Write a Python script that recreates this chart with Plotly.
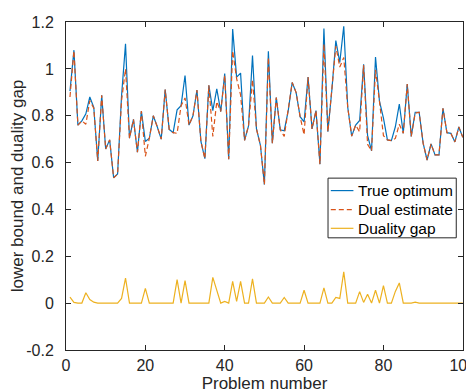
import plotly.graph_objects as go

problems = list(range(1, 101))

true_optimum = [
    0.905, 1.080, 0.760, 0.778, 0.808, 0.880, 0.836, 0.607, 0.887, 0.658,
    0.697, 0.535, 0.551, 0.885, 1.107, 0.704, 0.785, 0.644, 0.820, 0.690,
    0.704, 0.800, 0.753, 0.700, 0.912, 0.742, 0.728, 0.825, 0.843, 0.972,
    0.760, 0.800, 0.910, 0.690, 0.617, 0.930, 0.822, 0.915, 0.818, 0.980,
    0.614, 1.170, 0.965, 0.982, 0.695, 0.757, 1.057, 0.744, 0.674, 0.506,
    1.075, 0.683, 0.878, 0.740, 0.736, 0.821, 0.942, 0.899, 0.796, 0.774,
    0.965, 0.744, 0.822, 0.593, 1.172, 0.732, 0.910, 1.121, 1.028, 1.182,
    0.836, 0.713, 0.760, 0.780, 1.020, 0.716, 0.650, 1.051, 0.862, 0.790,
    0.697, 0.694, 0.753, 0.850, 0.725, 0.935, 0.712, 0.815, 0.815, 0.683,
    0.611, 0.680, 0.633, 0.633, 0.832, 0.728, 0.725, 0.688, 0.752, 0.708,
]

dual_estimate = [
    0.880, 1.077, 0.760, 0.778, 0.764, 0.865, 0.832, 0.607, 0.887, 0.658,
    0.697, 0.535, 0.551, 0.865, 1.000, 0.704, 0.785, 0.644, 0.820, 0.627,
    0.704, 0.800, 0.753, 0.700, 0.912, 0.742, 0.728, 0.725, 0.843, 0.876,
    0.760, 0.800, 0.910, 0.690, 0.617, 0.930, 0.712, 0.860, 0.818, 0.973,
    0.614, 1.077, 0.958, 0.889, 0.695, 0.757, 0.954, 0.744, 0.674, 0.506,
    1.049, 0.683, 0.878, 0.740, 0.712, 0.821, 0.942, 0.899, 0.796, 0.719,
    0.965, 0.744, 0.822, 0.593, 1.107, 0.732, 0.910, 1.097, 1.008, 1.049,
    0.836, 0.713, 0.760, 0.731, 1.017, 0.678, 0.650, 0.996, 0.862, 0.715,
    0.697, 0.694, 0.703, 0.764, 0.725, 0.935, 0.712, 0.811, 0.815, 0.683,
    0.611, 0.680, 0.633, 0.633, 0.832, 0.728, 0.725, 0.688, 0.752, 0.708,
]

duality_gap = [
    0.025, 0.003, 0.000, 0.000, 0.044, 0.015, 0.004, 0.000, 0.000, 0.000,
    0.000, 0.000, 0.000, 0.020, 0.107, 0.000, 0.000, 0.000, 0.000, 0.063,
    0.000, 0.000, 0.000, 0.000, 0.000, 0.000, 0.000, 0.100, 0.000, 0.096,
    0.000, 0.000, 0.000, 0.000, 0.000, 0.000, 0.110, 0.055, 0.000, 0.007,
    0.000, 0.093, 0.007, 0.093, 0.000, 0.000, 0.103, 0.000, 0.000, 0.000,
    0.026, 0.000, 0.000, 0.000, 0.024, 0.000, 0.000, 0.000, 0.000, 0.055,
    0.000, 0.000, 0.000, 0.000, 0.065, 0.000, 0.000, 0.024, 0.020, 0.133,
    0.000, 0.000, 0.000, 0.049, 0.003, 0.038, 0.000, 0.055, 0.000, 0.075,
    0.000, 0.000, 0.050, 0.086, 0.000, 0.000, 0.000, 0.004, 0.000, 0.000,
    0.000, 0.000, 0.000, 0.000, 0.000, 0.000, 0.000, 0.000, 0.000, 0.000,
]

series_names = ["True optimum", "Dual estimate", "Duality gap"]
series_colors = ["#0072BD", "#D95319", "#EDB120"]
series_dash = ["solid", "5px,3px", "solid"]

x_ticks = [0, 20, 40, 60, 80, 100]
y_ticks = [-0.2, 0, 0.2, 0.4, 0.6, 0.8, 1.0, 1.2]
y_tick_labels = ["-0.2", "0", "0.2", "0.4", "0.6", "0.8", "1", "1.2"]

FONT = "Liberation Sans, Arial, Helvetica, sans-serif"
AX = "#262626"

fig = go.Figure()
for name, ys, col, dash in zip(series_names, [true_optimum, dual_estimate, duality_gap],
                               series_colors, series_dash):
    fig.add_trace(go.Scatter(x=problems, y=ys, mode="lines", name=name,
                             line=dict(color=col, width=1.2, dash=dash)))

# Legend box drawn in the plot's paper coordinates (compact, MATLAB-style)
leg_x0, leg_x1, leg_y0, leg_y1 = 0.660, 0.983, 0.342, 0.524
entry_y = [0.486, 0.428, 0.371]
shapes = [dict(type="rect", xref="paper", yref="paper", x0=leg_x0, x1=leg_x1,
               y0=leg_y0, y1=leg_y1, line=dict(color=AX, width=1), fillcolor="white",
               layer="above")]
annotations = []
for name, col, dash, ey in zip(series_names, series_colors, series_dash, entry_y):
    shapes.append(dict(type="line", xref="paper", yref="paper", x0=0.667, x1=0.724,
                       y0=ey, y1=ey, line=dict(color=col, width=1.2, dash=dash),
                       layer="above"))
    annotations.append(dict(xref="paper", yref="paper", x=0.730, y=ey, text=name,
                            showarrow=False, xanchor="left", yanchor="middle",
                            font=dict(family=FONT, size=15.5, color="black")))

fig.update_layout(
    width=474, height=392,
    margin=dict(l=58, r=10, t=6, b=50),
    paper_bgcolor="white", plot_bgcolor="white",
    font=dict(family=FONT, size=16, color=AX),
    showlegend=False,
    shapes=shapes, annotations=annotations,
)
fig.update_xaxes(
    range=[0, 100.05], tickmode="array", tickvals=x_ticks,
    ticks="inside", ticklen=5, tickcolor=AX, tickwidth=1,
    showline=True, linecolor=AX, linewidth=1, mirror="ticks",
    showgrid=False, zeroline=False, ticklabeloverflow="allow",
    tickfont=dict(size=16, color=AX), ticklabelstandoff=1,
    title=dict(text="Problem number", font=dict(size=17, color=AX), standoff=0),
)
fig.update_yaxes(
    range=[-0.2003, 1.2003], tickmode="array", tickvals=y_ticks, ticktext=y_tick_labels,
    ticks="inside", ticklen=5, tickcolor=AX, tickwidth=1,
    showline=True, linecolor=AX, linewidth=1, mirror="ticks",
    showgrid=False, zeroline=False, ticklabeloverflow="allow",
    tickfont=dict(size=16, color=AX), ticklabelstandoff=8,
    title=dict(text="lower bound and duality gap", font=dict(size=17, color=AX), standoff=0),
)

fig.write_html("out.html")
